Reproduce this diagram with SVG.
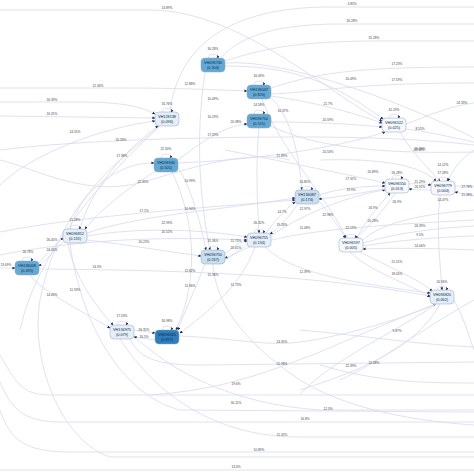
<svg xmlns="http://www.w3.org/2000/svg" width="474" height="474" viewBox="0 0 474 474">
<style>
.e{fill:none;stroke:#d9dcee;stroke-width:0.85}
.l{font-family:"Liberation Sans",Arial,sans-serif;font-size:3.2px;fill:#444;text-anchor:middle}
.n rect{stroke:#8fa6bd;stroke-width:0.5}
.n text{font-family:"Liberation Sans",Arial,sans-serif;font-size:3.8px;fill:#0d2a4a;text-anchor:middle}
.dk{fill:#2f7ebc}.md{fill:#64a9d4}.lt{fill:#cadff0}.vl{fill:#e6eff8}.wh{fill:#f6f8fc}
</style>
<defs>
<marker id="a" markerWidth="3" markerHeight="3" refX="2.6" refY="1.5" orient="auto" markerUnits="userSpaceOnUse"><path d="M0,0 L3,1.5 L0,3z" fill="#1d2f5e"/></marker>
</defs>
<rect width="474" height="474" fill="#ffffff"/>
<g id="connectors">
<path class="e" d="M0,10 L150,10 C240,10 330,95 382,121" marker-end="url(#a)"/>
<path class="e" d="M170,112 C178,45 230,7 330,7 L474,7"/>
<path class="e" d="M221,58 C240,35 280,24 340,24 L474,24"/>
<path class="e" d="M225,61 C265,48 300,41 380,41 L474,41"/>
<path class="e" d="M271,88 C320,72 360,67 474,67"/>
<path class="e" d="M271,94 C320,92 350,83 474,83"/>
<path class="e" d="M225,66 C290,66 330,80 383,119" marker-end="url(#a)"/>
<path class="e" d="M271,96 C300,100 340,108 382,123" marker-end="url(#a)"/>
<path class="e" d="M271,122 C320,122 350,124 382,127" marker-end="url(#a)"/>
<path class="e" d="M406,124 C430,115 450,106 474,103"/>
<path class="e" d="M406,129 C430,132 455,138 474,142"/>
<path class="e" d="M400,132 C410,150 425,165 440,181" marker-end="url(#a)"/>
<path class="e" d="M225,63 C290,58 420,110 474,138"/>
<path class="e" d="M0,88 L120,88 C180,88 220,90 247,91" marker-end="url(#a)"/>
<path class="e" d="M0,102 L80,102 C120,102 140,106 155,114" marker-end="url(#a)"/>
<path class="e" d="M0,116 L155,118" marker-end="url(#a)"/>
<path class="e" d="M0,185 C30,155 100,128 155,121" marker-end="url(#a)"/>
<path class="e" d="M80,229 C90,190 125,150 158,126" marker-end="url(#a)"/>
<path class="e" d="M70,229 C80,190 120,162 154,163" marker-end="url(#a)"/>
<path class="e" d="M156,171 C125,190 100,210 85,229" marker-end="url(#a)"/>
<path class="e" d="M87,233 C140,215 220,210 295,198" marker-end="url(#a)"/>
<path class="e" d="M87,240 C130,245 170,252 201,256" marker-end="url(#a)"/>
<path class="e" d="M39,263 C45,255 55,245 63,238" marker-end="url(#a)"/>
<path class="e" d="M63,242 C55,250 48,258 39,266" marker-end="url(#a)"/>
<path class="e" d="M0,268 L15,268" marker-end="url(#a)"/>
<path class="e" d="M39,269 C150,270 300,272 430,296" marker-end="url(#a)"/>
<path class="e" d="M30,275 C40,290 80,310 110,328" marker-end="url(#a)"/>
<path class="e" d="M68,243 C72,270 90,300 113,325" marker-end="url(#a)"/>
<path class="e" d="M0,160 C40,170 90,200 150,180 C200,165 250,150 290,160"/>
<path class="e" d="M20,330 C35,260 90,190 160,126"/>
<path class="e" d="M160,126 C120,160 60,200 40,300 C30,360 60,440 110,457 L474,457"/>
<path class="e" d="M70,243 C80,320 120,395 180,410 L474,412"/>
<path class="e" d="M0,355 C15,380 20,395 50,395 L474,395"/>
<path class="e" d="M0,382 C10,405 20,422 60,422 L474,422"/>
<path class="e" d="M0,410 C10,440 25,452 70,452 L474,452"/>
<path class="e" d="M0,470 L474,470"/>
<path class="e" d="M120,339 C160,400 220,437 300,437 L474,437"/>
<path class="e" d="M179,336 C230,338 260,345 290,343 C330,340 400,320 436,304" marker-end="url(#a)"/>
<path class="e" d="M130,339 C140,360 160,365 200,365 L474,362"/>
<path class="e" d="M150,395 C220,390 260,375 320,352 C370,330 420,310 436,304"/>
<path class="e" d="M134,336 C170,370 230,404 320,410 L474,410"/>
<path class="e" d="M172,172 C200,230 195,290 176,330" marker-end="url(#a)"/>
<path class="e" d="M205,264 C195,290 185,310 178,330" marker-end="url(#a)"/>
<path class="e" d="M213,264 C215,300 240,340 300,380 C340,405 400,420 474,425"/>
<path class="e" d="M255,247 C245,275 225,300 180,333" marker-end="url(#a)"/>
<path class="e" d="M265,247 C290,270 330,280 430,293" marker-end="url(#a)"/>
<path class="e" d="M178,168 C190,185 200,220 206,250" marker-end="url(#a)"/>
<path class="e" d="M0,232 C80,216 200,208 295,200" marker-end="url(#a)"/>
<path class="e" d="M87,236 C150,225 220,232 247,237" marker-end="url(#a)"/>
<path class="e" d="M0,255 C100,235 200,238 247,240" marker-end="url(#a)"/>
<path class="e" d="M225,254 C235,245 240,242 247,241" marker-end="url(#a)"/>
<path class="e" d="M247,244 C240,250 232,256 225,258" marker-end="url(#a)"/>
<path class="e" d="M266,233 C275,220 285,210 295,202" marker-end="url(#a)"/>
<path class="e" d="M298,204 C290,215 280,228 270,234" marker-end="url(#a)"/>
<path class="e" d="M271,236 C300,215 350,195 385,190" marker-end="url(#a)"/>
<path class="e" d="M225,260 C260,235 320,228 474,220"/>
<path class="e" d="M178,163 C250,160 330,150 385,132" marker-end="url(#a)"/>
<path class="e" d="M0,150 C80,140 200,137 300,137 C380,137 430,140 474,145"/>
<path class="e" d="M178,160 C210,135 230,125 247,124" marker-end="url(#a)"/>
<path class="e" d="M271,98 C285,110 298,140 302,190" marker-end="url(#a)"/>
<path class="e" d="M271,126 C300,140 350,155 474,152"/>
<path class="e" d="M205,72 C195,140 200,200 210,250" marker-end="url(#a)"/>
<path class="e" d="M262,99 C280,150 330,200 346,238" marker-end="url(#a)"/>
<path class="e" d="M259,128 C255,170 258,210 259,233" marker-end="url(#a)"/>
<path class="e" d="M225,150 C300,165 350,175 385,183" marker-end="url(#a)"/>
<path class="e" d="M319,195 C340,188 365,186 385,186" marker-end="url(#a)"/>
<path class="e" d="M385,189 C365,192 340,197 319,199" marker-end="url(#a)"/>
<path class="e" d="M409,184 C418,183 425,184 431,185" marker-end="url(#a)"/>
<path class="e" d="M431,190 C423,190 417,190 409,189" marker-end="url(#a)"/>
<path class="e" d="M455,186 L474,186"/>
<path class="e" d="M474,196 L455,192" marker-end="url(#a)"/>
<path class="e" d="M440,195 C436,230 440,260 442,290" marker-end="url(#a)"/>
<path class="e" d="M395,193 C385,210 365,230 356,238" marker-end="url(#a)"/>
<path class="e" d="M319,201 C330,215 340,228 345,238" marker-end="url(#a)"/>
<path class="e" d="M357,238 C365,220 380,205 390,193" marker-end="url(#a)"/>
<path class="e" d="M363,240 C380,225 410,215 474,210"/>
<path class="e" d="M320,160 C380,158 420,165 436,181" marker-end="url(#a)"/>
<path class="e" d="M474,150 C460,160 452,170 448,181" marker-end="url(#a)"/>
<path class="e" d="M363,243 C400,232 440,228 474,226"/>
<path class="e" d="M363,246 C400,240 440,237 474,236"/>
<path class="e" d="M474,250 C430,248 390,248 363,249" marker-end="url(#a)"/>
<path class="e" d="M360,252 C385,265 420,280 432,291" marker-end="url(#a)"/>
<path class="e" d="M350,252 C370,272 410,284 430,297" marker-end="url(#a)"/>
<path class="e" d="M436,304 C400,330 330,360 300,395"/>
<path class="e" d="M440,304 C420,340 380,365 300,390"/>
<path class="e" d="M474,300 C420,330 380,362 340,380"/>
<path class="e" d="M300,330 C360,335 420,345 474,347"/>
<path class="e" d="M320,365 C380,383 430,383 474,383"/>
<path class="e" d="M454,300 C465,320 470,340 474,350"/>
<path class="e" d="M134,330 L155,333" marker-end="url(#a)"/>
<path class="e" d="M155,340 L134,337" marker-end="url(#a)"/>
<path class="e" d="M209,58 C205,53 221,53 217,58" marker-end="url(#a)"/>
<path class="e" d="M255,85 C251,80 267,80 263,85" marker-end="url(#a)"/>
<path class="e" d="M255,114 C251,109 267,109 263,114" marker-end="url(#a)"/>
<path class="e" d="M163,112 C159,107 175,107 171,112" marker-end="url(#a)"/>
<path class="e" d="M162,158 C158,153 174,153 170,158" marker-end="url(#a)"/>
<path class="e" d="M71,229 C67,224 83,224 79,229" marker-end="url(#a)"/>
<path class="e" d="M23,261 C19,256 35,256 31,261" marker-end="url(#a)"/>
<path class="e" d="M118,325 C114,320 130,320 126,325" marker-end="url(#a)"/>
<path class="e" d="M163,330 C159,325 175,325 171,330" marker-end="url(#a)"/>
<path class="e" d="M255,233 C251,228 267,228 263,233" marker-end="url(#a)"/>
<path class="e" d="M209,250 C205,245 221,245 217,250" marker-end="url(#a)"/>
<path class="e" d="M303,190 C299,185 315,185 311,190" marker-end="url(#a)"/>
<path class="e" d="M393,179 C389,174 405,174 401,179" marker-end="url(#a)"/>
<path class="e" d="M439,181 C435,176 451,176 447,181" marker-end="url(#a)"/>
<path class="e" d="M347,238 C343,233 359,233 355,238" marker-end="url(#a)"/>
<path class="e" d="M390,118 C386,113 402,113 398,118" marker-end="url(#a)"/>
<path class="e" d="M438,290 C434,285 450,285 446,290" marker-end="url(#a)"/>
</g>
<g id="labels">
<text class="l" x="167" y="9">14.89%</text>
<text class="l" x="352" y="5">4.85%</text>
<text class="l" x="352" y="22">26.28%</text>
<text class="l" x="374" y="39">31.28%</text>
<text class="l" x="397" y="65">17.23%</text>
<text class="l" x="351" y="80">20.49%</text>
<text class="l" x="397" y="81">17.59%</text>
<text class="l" x="462" y="104">24.33%</text>
<text class="l" x="328" y="105">21.7%</text>
<text class="l" x="328" y="121">20.59%</text>
<text class="l" x="394" y="111">41.29%</text>
<text class="l" x="420" y="130">8.55%</text>
<text class="l" x="420" y="150">26.33%</text>
<text class="l" x="328" y="153">20.53%</text>
<text class="l" x="98" y="87">12.34%</text>
<text class="l" x="52" y="101">16.39%</text>
<text class="l" x="52" y="115">16.31%</text>
<text class="l" x="75" y="133">14.55%</text>
<text class="l" x="121" y="141">16.33%</text>
<text class="l" x="122" y="157">17.38%</text>
<text class="l" x="143" y="183">22.35%</text>
<text class="l" x="144" y="212">17.1%</text>
<text class="l" x="144" y="243">20.23%</text>
<text class="l" x="75" y="221">21.28%</text>
<text class="l" x="52" y="241">26.45%</text>
<text class="l" x="52" y="251">24.45%</text>
<text class="l" x="28" y="253">26.78%</text>
<text class="l" x="6" y="266">13.09%</text>
<text class="l" x="97" y="268">14.3%</text>
<text class="l" x="52" y="296">14.49%</text>
<text class="l" x="75" y="291">11.93%</text>
<text class="l" x="213" y="50">30.28%</text>
<text class="l" x="190" y="85">12.88%</text>
<text class="l" x="259" y="77">16.09%</text>
<text class="l" x="213" y="100">10.49%</text>
<text class="l" x="283" y="112">16.37%</text>
<text class="l" x="167" y="105">16.76%</text>
<text class="l" x="259" y="106">14.58%</text>
<text class="l" x="213" y="118">10.19%</text>
<text class="l" x="236" y="123">20.38%</text>
<text class="l" x="213" y="136">17.29%</text>
<text class="l" x="166" y="150">22.30%</text>
<text class="l" x="282" y="157">21.89%</text>
<text class="l" x="190" y="182">10.99%</text>
<text class="l" x="305" y="183">24.85%</text>
<text class="l" x="190" y="210">10.94%</text>
<text class="l" x="305" y="210">12.97%</text>
<text class="l" x="282" y="213">14.7%</text>
<text class="l" x="167" y="224">22.93%</text>
<text class="l" x="259" y="224">26.32%</text>
<text class="l" x="282" y="226">19.26%</text>
<text class="l" x="305" y="229">11.08%</text>
<text class="l" x="167" y="233">20.52%</text>
<text class="l" x="213" y="242">31.36%</text>
<text class="l" x="236" y="242">11.75%</text>
<text class="l" x="236" y="249">20.61%</text>
<text class="l" x="190" y="272">11.82%</text>
<text class="l" x="305" y="273">12.39%</text>
<text class="l" x="213" y="276">15.36%</text>
<text class="l" x="236" y="286">11.73%</text>
<text class="l" x="190" y="287">11.96%</text>
<text class="l" x="419" y="151">20.33%</text>
<text class="l" x="443" y="166">14.12%</text>
<text class="l" x="373" y="173">20.89%</text>
<text class="l" x="397" y="174">26.28%</text>
<text class="l" x="443" y="174">17.28%</text>
<text class="l" x="351" y="180">17.31%</text>
<text class="l" x="420" y="183">21.29%</text>
<text class="l" x="420" y="188">26.92%</text>
<text class="l" x="467" y="188">27.78%</text>
<text class="l" x="351" y="191">19.9%</text>
<text class="l" x="467" y="196">21.38%</text>
<text class="l" x="443" y="201">14.47%</text>
<text class="l" x="397" y="203">26.9%</text>
<text class="l" x="373" y="209">16.9%</text>
<text class="l" x="328" y="216">22.98%</text>
<text class="l" x="373" y="222">20.28%</text>
<text class="l" x="420" y="227">26.39%</text>
<text class="l" x="351" y="229">22.19%</text>
<text class="l" x="420" y="236">9.5%</text>
<text class="l" x="420" y="247">14.06%</text>
<text class="l" x="397" y="263">21.51%</text>
<text class="l" x="397" y="275">18.05%</text>
<text class="l" x="442" y="283">20.96%</text>
<text class="l" x="122" y="317">17.53%</text>
<text class="l" x="167" y="322">30.98%</text>
<text class="l" x="144" y="331">26.35%</text>
<text class="l" x="144" y="338">16.5%</text>
<text class="l" x="397" y="332">9.87%</text>
<text class="l" x="282" y="343">24.35%</text>
<text class="l" x="282" y="365">21.98%</text>
<text class="l" x="374" y="364">12.08%</text>
<text class="l" x="351" y="367">22.39%</text>
<text class="l" x="236" y="385">19.6%</text>
<text class="l" x="236" y="404">30.11%</text>
<text class="l" x="328" y="410">12.3%</text>
<text class="l" x="305" y="420">16.8%</text>
<text class="l" x="282" y="436">11.32%</text>
<text class="l" x="259" y="451">10.89%</text>
<text class="l" x="236" y="468">13.6%</text>
</g>
<g id="VH096730" class="n"><rect class="md" x="201" y="58" width="24" height="14" rx="4"/><text x="213" y="64">VH096730</text><text x="213" y="69">(0.504)</text></g>
<g id="VH136047" class="n"><rect class="md" x="247" y="85" width="24" height="14" rx="4"/><text x="259" y="91">VH136047</text><text x="259" y="96">(0.826)</text></g>
<g id="VH096750a" class="n"><rect class="md" x="247" y="114" width="24" height="14" rx="4"/><text x="259" y="120">VH096750</text><text x="259" y="125">(0.555)</text></g>
<g id="VH128138" class="n"><rect class="vl" x="155" y="112" width="24" height="14" rx="4"/><text x="167" y="118">VH128138</text><text x="167" y="123">(0.096)</text></g>
<g id="VH096940" class="n"><rect class="md" x="154" y="158" width="24" height="14" rx="4"/><text x="166" y="164">VH096940</text><text x="166" y="169">(0.505)</text></g>
<g id="VH096812" class="n"><rect class="vl" x="63" y="229" width="24" height="14" rx="4"/><text x="75" y="235">VH096812</text><text x="75" y="240">(0.131)</text></g>
<g id="VH136008" class="n"><rect class="md" x="15" y="261" width="24" height="14" rx="4"/><text x="27" y="267">VH136008</text><text x="27" y="272">(0.495)</text></g>
<g id="VH134975" class="n"><rect class="vl" x="110" y="325" width="24" height="14" rx="4"/><text x="122" y="331">VH134975</text><text x="122" y="336">(0.079)</text></g>
<g id="VH096820a" class="n"><rect class="dk" x="155" y="330" width="24" height="14" rx="4"/><text x="167" y="336">VH096820</text><text x="167" y="341">(0.872)</text></g>
<g id="VH096755" class="n"><rect class="vl" x="247" y="233" width="24" height="14" rx="4"/><text x="259" y="239">VH096755</text><text x="259" y="244">(0.134)</text></g>
<g id="VH096750b" class="n"><rect class="lt" x="201" y="250" width="24" height="14" rx="4"/><text x="213" y="256">VH096750</text><text x="213" y="261">(0.267)</text></g>
<g id="VH136087" class="n"><rect class="lt" x="295" y="190" width="24" height="14" rx="4"/><text x="307" y="196">VH136087</text><text x="307" y="201">(0.174)</text></g>
<g id="VH096550" class="n"><rect class="wh" x="385" y="179" width="24" height="14" rx="4"/><text x="397" y="185">VH096550</text><text x="397" y="190">(0.013)</text></g>
<g id="VH096779" class="n"><rect class="wh" x="431" y="181" width="24" height="14" rx="4"/><text x="443" y="187">VH096779</text><text x="443" y="192">(0.004)</text></g>
<g id="VH096597" class="n"><rect class="wh" x="339" y="238" width="24" height="14" rx="4"/><text x="351" y="244">VH096597</text><text x="351" y="249">(0.005)</text></g>
<g id="VH096522" class="n"><rect class="wh" x="382" y="118" width="24" height="14" rx="4"/><text x="394" y="124">VH096522</text><text x="394" y="129">(0.025)</text></g>
<g id="VH096820b" class="n"><rect class="vl" x="430" y="290" width="24" height="14" rx="4"/><text x="442" y="296">VH096820</text><text x="442" y="301">(0.062)</text></g>
</svg>
